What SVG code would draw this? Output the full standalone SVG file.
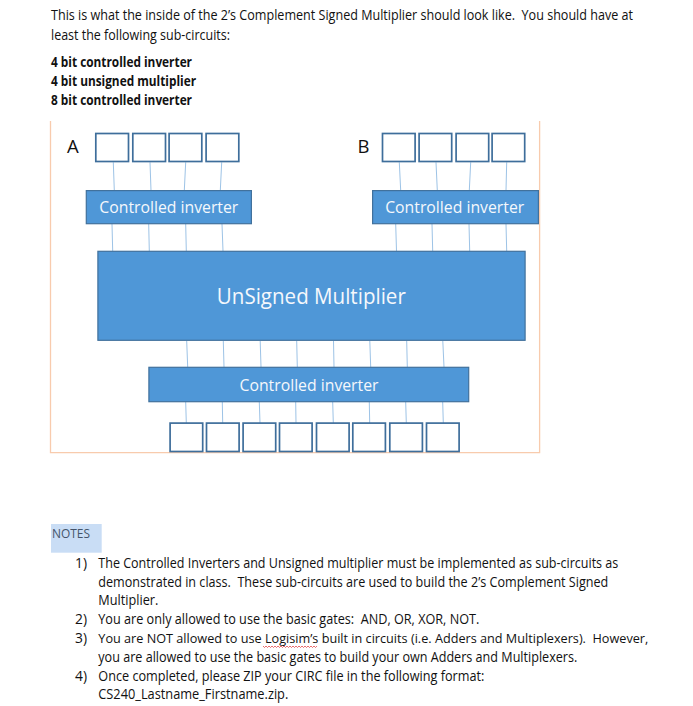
<svg xmlns="http://www.w3.org/2000/svg" width="693" height="706" viewBox="0 0 693 706">
<style>
  text { font-family: "Open Sans", "Noto Sans", "Liberation Sans", sans-serif; white-space: pre; }
  .body { font-size: 13.8px; fill: #111111; }
  .bodys { font-size: 12.9px; fill: #111111; }
  .bold { font-size: 13.6px; font-weight: bold; fill: #111111; }
  .notes { font-size: 11.8px; fill: #44546a; }
  .lbl { font-size: 18.5px; fill: #111111; }
  .boxtxt { font-size: 16.2px; fill: #f5f8fc; text-anchor: middle; }
  .bigtxt { font-size: 21px; fill: #f5f8fc; text-anchor: middle; }
  .box { fill: #4f97d7; stroke: #41719c; stroke-width: 1.2; }
  .bit { fill: #ffffff; stroke: #3e6e9b; stroke-width: 1.7; }
  .wire { stroke: #9dc3e6; stroke-width: 1; fill: none; }
</style>

<g id="header">
  <text class="body" x="51" y="19.5" textLength="582" lengthAdjust="spacingAndGlyphs">This is what the inside of the 2’s Complement Signed Multiplier should look like.  You should have at</text>
  <text class="body" x="51" y="40" textLength="179" lengthAdjust="spacingAndGlyphs">least the following sub-circuits:</text>
  <text class="bold" x="51" y="66.5" textLength="141" lengthAdjust="spacingAndGlyphs">4 bit controlled inverter</text>
  <text class="bold" x="51" y="85.5" textLength="145" lengthAdjust="spacingAndGlyphs">4 bit unsigned multiplier</text>
  <text class="bold" x="51" y="105" textLength="141" lengthAdjust="spacingAndGlyphs">8 bit controlled inverter</text>
</g>

<g id="frame">
  <path d="M50.5,121 V452.6 H539.6 V121" fill="none" stroke="#f8cbad" stroke-width="1.3"/>
</g>

<g id="connectors">
  <line class="wire" x1="113.3" y1="162.3" x2="114.3" y2="190.5"/>
  <line class="wire" x1="150" y1="162.3" x2="151" y2="190.5"/>
  <line class="wire" x1="185.7" y1="162.3" x2="184.3" y2="190.5"/>
  <line class="wire" x1="221.7" y1="162.3" x2="220.3" y2="190.5"/>

  <line class="wire" x1="399.3" y1="162.3" x2="400.7" y2="190.5"/>
  <line class="wire" x1="436" y1="162.3" x2="437.3" y2="190.5"/>
  <line class="wire" x1="470.7" y1="162.3" x2="469.3" y2="190.5"/>
  <line class="wire" x1="506.7" y1="162.3" x2="506" y2="190.5"/>

  <line class="wire" x1="112" y1="224" x2="112.7" y2="251"/>
  <line class="wire" x1="148.7" y1="224" x2="149.3" y2="251"/>
  <line class="wire" x1="185.7" y1="224" x2="186.3" y2="251"/>
  <line class="wire" x1="222" y1="224" x2="223" y2="251"/>

  <line class="wire" x1="395.7" y1="224" x2="396.5" y2="251"/>
  <line class="wire" x1="432" y1="224" x2="432.7" y2="251"/>
  <line class="wire" x1="469" y1="224" x2="469.7" y2="251"/>
  <line class="wire" x1="506" y1="224" x2="506.7" y2="251"/>

  <line class="wire" x1="186.7" y1="341" x2="187.7" y2="367"/>
  <line class="wire" x1="223.3" y1="341" x2="224" y2="367"/>
  <line class="wire" x1="260.2" y1="341" x2="261" y2="367"/>
  <line class="wire" x1="296.7" y1="341" x2="297.3" y2="367"/>
  <line class="wire" x1="333.5" y1="341" x2="334" y2="367"/>
  <line class="wire" x1="369.8" y1="341" x2="370.7" y2="367"/>
  <line class="wire" x1="406.7" y1="341" x2="407.3" y2="367"/>
  <line class="wire" x1="442.8" y1="341" x2="444" y2="367"/>

  <line class="wire" x1="185.7" y1="402" x2="186.3" y2="423"/>
  <line class="wire" x1="222.3" y1="402" x2="222.7" y2="423"/>
  <line class="wire" x1="259.3" y1="402" x2="260" y2="423"/>
  <line class="wire" x1="295.7" y1="402" x2="296" y2="423"/>
  <line class="wire" x1="332.7" y1="402" x2="333.3" y2="423"/>
  <line class="wire" x1="369.3" y1="402" x2="369.7" y2="423"/>
  <line class="wire" x1="405.7" y1="402" x2="406.3" y2="423"/>
  <line class="wire" x1="442.7" y1="402" x2="443.3" y2="423"/>
</g>

<g id="inputA">
  <text class="lbl" x="67" y="152.5">A</text>
  <rect class="bit" x="95.8" y="133.5" width="32.7" height="28"/>
  <rect class="bit" x="132.8" y="133.5" width="32.7" height="28"/>
  <rect class="bit" x="169.1" y="133.5" width="32.7" height="28"/>
  <rect class="bit" x="206.1" y="133.5" width="32.7" height="28"/>
</g>

<g id="inputB">
  <text class="lbl" x="357.5" y="152.5">B</text>
  <rect class="bit" x="382.5" y="133.5" width="32.6" height="28"/>
  <rect class="bit" x="419.1" y="133.5" width="32.6" height="28"/>
  <rect class="bit" x="456.1" y="133.5" width="32.6" height="28"/>
  <rect class="bit" x="492.1" y="133.5" width="32.6" height="28"/>
</g>

<g id="ciA">
  <rect class="box" x="86.3" y="190.6" width="165.1" height="33.1"/>
  <text class="boxtxt" x="168.8" y="213" textLength="139" lengthAdjust="spacingAndGlyphs">Controlled inverter</text>
</g>

<g id="ciB">
  <rect class="box" x="372.6" y="190.6" width="165.8" height="33.1"/>
  <text class="boxtxt" x="454.7" y="213" textLength="139" lengthAdjust="spacingAndGlyphs">Controlled inverter</text>
</g>

<g id="multiplier">
  <rect class="box" x="97.9" y="251.3" width="427.2" height="89"/>
  <text class="bigtxt" x="311.3" y="303.5" textLength="189" lengthAdjust="spacingAndGlyphs">UnSigned Multiplier</text>
</g>

<g id="ciOut">
  <rect class="box" x="148.9" y="367.3" width="319.8" height="34.4"/>
  <text class="boxtxt" x="309" y="390.8" textLength="139" lengthAdjust="spacingAndGlyphs">Controlled inverter</text>
</g>

<g id="output">
  <rect class="bit" x="170.1" y="423.1" width="32.6" height="28.4"/>
  <rect class="bit" x="206.5" y="423.1" width="32.6" height="28.4"/>
  <rect class="bit" x="243.1" y="423.1" width="32.6" height="28.4"/>
  <rect class="bit" x="279.5" y="423.1" width="32.6" height="28.4"/>
  <rect class="bit" x="316.5" y="423.1" width="32.6" height="28.4"/>
  <rect class="bit" x="352.8" y="423.1" width="32.6" height="28.4"/>
  <rect class="bit" x="389.8" y="423.1" width="32.6" height="28.4"/>
  <rect class="bit" x="426.5" y="423.1" width="32.6" height="28.4"/>
</g>

<g id="notes">
  <rect x="51" y="524" width="50.7" height="28.7" fill="#c9ddf5"/>
  <text class="notes" x="52" y="537.7" textLength="38" lengthAdjust="spacingAndGlyphs">NOTES</text>

  <text class="body" x="75" y="568">1)</text>
  <text class="body" x="98.3" y="568" textLength="520" lengthAdjust="spacingAndGlyphs">The Controlled Inverters and Unsigned multiplier must be implemented as sub-circuits as</text>
  <text class="body" x="98.3" y="586.5" textLength="510" lengthAdjust="spacingAndGlyphs">demonstrated in class.  These sub-circuits are used to build the 2’s Complement Signed</text>
  <text class="body" x="98.3" y="605" textLength="60" lengthAdjust="spacingAndGlyphs">Multiplier.</text>

  <text class="body" x="75" y="624">2)</text>
  <text class="body" x="98.3" y="624" textLength="381" lengthAdjust="spacingAndGlyphs">You are only allowed to use the basic gates:  AND, OR, XOR, NOT.</text>

  <text class="body" x="75" y="643">3)</text>
  <text class="bodys" x="98.3" y="643" textLength="550" lengthAdjust="spacingAndGlyphs">You are NOT allowed to use Logisim’s built in circuits (i.e. Adders and Multiplexers).  However,</text>
  <path d="M263,646 l1.5,1.5 l1.5,-1.5 l1.5,1.5 l1.5,-1.5 l1.5,1.5 l1.5,-1.5 l1.5,1.5 l1.5,-1.5 l1.5,1.5 l1.5,-1.5 l1.5,1.5 l1.5,-1.5 l1.5,1.5 l1.5,-1.5 l1.5,1.5 l1.5,-1.5 l1.5,1.5 l1.5,-1.5 l1.5,1.5 l1.5,-1.5 l1.5,1.5 l1.5,-1.5 l1.5,1.5 l1.5,-1.5 l1.5,1.5 l1.5,-1.5 l1.5,1.5 l1.5,-1.5 l1.5,1.5 l1.5,-1.5 l1.5,1.5 l1.5,-1.5 l1.5,1.5 l1.5,-1.5 l1.5,1.5 l1.5,-1.5" fill="none" stroke="#e03030" stroke-width="0.7"/>
  <text class="body" x="98.3" y="661.5" textLength="479" lengthAdjust="spacingAndGlyphs">you are allowed to use the basic gates to build your own Adders and Multiplexers.</text>

  <text class="body" x="75" y="680.5">4)</text>
  <text class="body" x="98.3" y="680.5" textLength="386" lengthAdjust="spacingAndGlyphs">Once completed, please ZIP your CIRC file in the following format:</text>
  <text class="body" x="98.3" y="699" textLength="190" lengthAdjust="spacingAndGlyphs">CS240_Lastname_Firstname.zip.</text>
</g>
</svg>
